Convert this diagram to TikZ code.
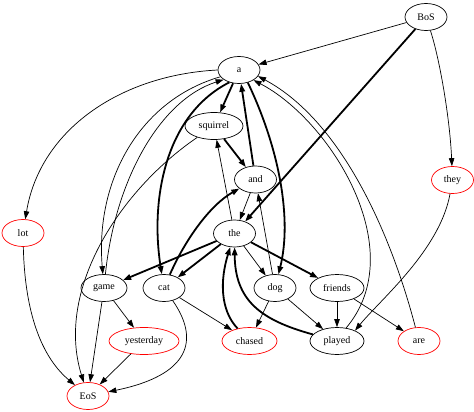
\documentclass[tikz,border=0pt]{standalone}
\usepackage{fontspec}
\setmainfont{Liberation Serif}
\usetikzlibrary{shapes.geometric,arrows.meta}
\tikzset{
  nd/.style={ellipse, draw, line width=0.7pt, minimum height=27, minimum width=42, inner sep=1pt, font=\fontsize{10}{12}\selectfont},
  rd/.style={nd, draw=red},
  ed/.style={-{Triangle[length=8pt,width=5.5pt]}, line width=0.7pt},
  tk/.style={ed, line width=1.8pt}
}
\begin{document}
\begin{tikzpicture}[x=1pt,y=-1pt]
\useasboundingbox (0,0) rectangle (474,412);
\node[nd] (BoS) at (426,17) {BoS};
\node[nd] (a) at (239,70) {a};
\node[nd, minimum width=58] (squirrel) at (214,126) {squirrel};
\node[nd] (and) at (255.5,179.5) {and};
\node[rd] (they) at (452.5,180) {they};
\node[rd] (lot) at (23,233) {lot};
\node[nd] (the) at (234.5,233.5) {the};
\node[nd, minimum width=46] (game) at (104,288) {game};
\node[nd] (cat) at (164,288) {cat};
\node[nd] (dog) at (275,288) {dog};
\node[nd, minimum width=54] (friends) at (337,288) {friends};
\node[rd, minimum width=70] (yesterday) at (144,341) {yesterday};
\node[rd, minimum width=55] (chased) at (249.5,341) {chased};
\node[nd, minimum width=54] (played) at (337,341) {played};
\node[rd] (are) at (419,341) {are};
\node[rd] (EoS) at (88,396) {EoS};

\draw[ed] (BoS) -- (a);
\draw[tk] (BoS) -- (the);
\draw[ed] (BoS) .. controls (440,60) and (450,120) .. (they);
\draw[tk] (a) -- (squirrel);
\draw[ed] (a.180) .. controls (120,75) and (40,130) .. (lot);
\draw[ed] (a.200) .. controls (140,100) and (95,180) .. (game);
\draw[ed] (game) .. controls (115,180) and (160,100) .. (a.212);
\draw[tk] (a.232) .. controls (165,115) and (150,200) .. (cat);
\draw[tk] (a.305) .. controls (280,150) and (292,220) .. (dog);
\draw[tk] (and) -- (a);
\draw[ed] (played.55) .. controls (412,250) and (330,120) .. (a.325);
\draw[ed] (are) .. controls (390,230) and (340,120) .. (a.342);
\draw[ed] (they) .. controls (440,250) and (380,300) .. (played.30);
\draw[tk] (squirrel) -- (and);
\draw[ed] (squirrel) .. controls (120,190) and (55,290) .. (EoS);
\draw[ed] (the) -- (squirrel);
\draw[ed] (and) -- (the);
\draw[ed] (dog) -- (and);
\draw[tk] (cat) .. controls (185,240) and (210,205) .. (and);
\draw[tk] (the) -- (game);
\draw[tk] (the) -- (cat);
\draw[ed] (the) -- (dog);
\draw[tk] (the) -- (friends);
\draw[tk] (chased) .. controls (220,310) and (220,280) .. (the);
\draw[tk] (played) .. controls (260,320) and (235,300) .. (the);
\draw[ed] (cat) -- (chased);
\draw[ed] (cat) .. controls (200,340) and (190,375) .. (EoS);
\draw[ed] (dog) -- (chased);
\draw[ed] (dog) -- (played);
\draw[ed] (friends) -- (played);
\draw[ed] (friends) -- (are);
\draw[ed] (game) -- (yesterday);
\draw[ed] (game) -- (EoS);
\draw[ed] (yesterday) -- (EoS);
\draw[ed] (lot) .. controls (25,320) and (45,360) .. (EoS);
\end{tikzpicture}
\end{document}
